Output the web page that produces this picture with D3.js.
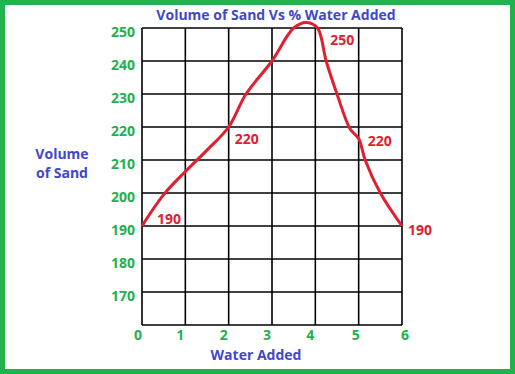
<!DOCTYPE html>
<html>
<head>
<meta charset="utf-8">
<script src="https://cdn.jsdelivr.net/npm/d3@7"></script>
<style>
  body { margin: 0; background: #fff; }
  svg text { font-family: "Open Sans", sans-serif; font-weight: bold; }
</style>
</head>
<body>
<svg id="chart"></svg>
<script>
// Data
const waterAdded = [0, 0.5, 1, 1.5, 2, 2.4, 3, 3.5, 3.8, 4.05, 4.25, 4.5, 4.8, 5, 5.15, 5.5, 6];
const sandVolume = [190, 199.5, 206.5, 213, 220, 230, 240, 250, 251.7, 250, 240, 230, 219.5, 216.5, 210, 200, 190];

const xTicks = [0, 1, 2, 3, 4, 5, 6];
const yGrid = [160, 170, 180, 190, 200, 210, 220, 230, 240, 250];
const yTickLabels = [170, 180, 190, 200, 210, 220, 230, 240, 250];

// annotated points
const labelX = [0, 2, 4, 5, 6];
const labelY = [190, 220, 250, 220, 190];
// label nudges in px (layout only)
const labelNudge = [[15, -7], [6, 12], [15, 12], [9, 14], [6, 4]];
const xLabelNudge = [-4, -5, -5, -5, -5, -3, 3];

const W = 515, H = 374;
const margin = {top: 28, right: 113, bottom: 49, left: 142};
const width = W - margin.left - margin.right;
const height = H - margin.top - margin.bottom;

const green = '#22b14c', red = '#e02030', blue = '#3f48cc';

const svg = d3.select('#chart').attr('width', W).attr('height', H);

// green frame
svg.append('rect')
    .attr('x', 2.5).attr('y', 2.5)
    .attr('width', W - 5).attr('height', H - 5)
    .attr('fill', 'none')
    .attr('stroke', green)
    .attr('stroke-width', 5);

const xScale = d3.scaleLinear().domain([0, 6]).range([0, width]);
const yScale = d3.scaleLinear().domain([160, 250]).range([height, 0]);

const chart = svg.append('g')
    .attr('transform', `translate(${margin.left},${margin.top})`);

// grid
chart.selectAll('.vline')
    .data(xTicks)
  .join('line')
    .attr('class', 'vline')
    .attr('x1', d => xScale(d)).attr('x2', d => xScale(d))
    .attr('y1', 0).attr('y2', height)
    .attr('stroke', '#000').attr('stroke-width', 1.6);

chart.selectAll('.hline')
    .data(yGrid)
  .join('line')
    .attr('class', 'hline')
    .attr('x1', 0).attr('x2', width)
    .attr('y1', d => yScale(d)).attr('y2', d => yScale(d))
    .attr('stroke', '#000').attr('stroke-width', 1.6);

// tick labels
chart.selectAll('.ylab')
    .data(yTickLabels)
  .join('text')
    .attr('class', 'ylab')
    .attr('x', -7)
    .attr('y', d => yScale(d) + 4)
    .attr('dy', '0.35em')
    .attr('text-anchor', 'end')
    .attr('fill', green)
    .style('font-size', '14px')
    .text(d => d);

chart.selectAll('.xlab')
    .data(xTicks)
  .join('text')
    .attr('class', 'xlab')
    .attr('x', (d, i) => xScale(d) + xLabelNudge[i])
    .attr('y', height + 10)
    .attr('dy', '0.35em')
    .attr('text-anchor', 'middle')
    .attr('fill', green)
    .style('font-size', '14px')
    .text(d => d);

// line
const line = d3.line()
    .x(d => xScale(d[0]))
    .y(d => yScale(d[1]))
    .curve(d3.curveCatmullRom.alpha(0.5));

chart.append('path')
    .datum(d3.zip(waterAdded, sandVolume))
    .attr('fill', 'none')
    .attr('stroke', red)
    .attr('stroke-width', 3)
    .attr('stroke-linejoin', 'round')
    .attr('d', line);

// point labels
chart.selectAll('.plab')
    .data(d3.zip(labelX, labelY))
  .join('text')
    .attr('class', 'plab')
    .attr('x', (d, i) => xScale(d[0]) + labelNudge[i][0])
    .attr('y', (d, i) => yScale(d[1]) + labelNudge[i][1])
    .attr('dy', '0.35em')
    .attr('fill', red)
    .style('font-size', '14px')
    .text(d => d[1]);

// titles
svg.append('text')
    .attr('x', 276).attr('y', 15)
    .attr('dy', '0.35em')
    .attr('text-anchor', 'middle')
    .attr('fill', blue)
    .style('font-size', '14px')
    .text('Volume of Sand Vs % Water Added');

svg.append('text')
    .attr('x', 256).attr('y', 355)
    .attr('dy', '0.35em')
    .attr('text-anchor', 'middle')
    .attr('fill', blue)
    .style('font-size', '14px')
    .text('Water Added');

const yTitle = svg.append('text')
    .attr('text-anchor', 'middle')
    .attr('fill', blue)
    .style('font-size', '14px');
yTitle.append('tspan').attr('x', 62).attr('y', 154).attr('dy', '0.35em').text('Volume');
yTitle.append('tspan').attr('x', 62).attr('y', 173).attr('dy', '0.35em').text('of Sand');
</script>
</body>
</html>
